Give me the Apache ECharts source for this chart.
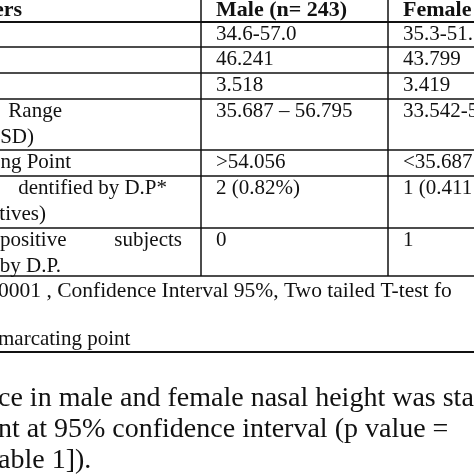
<!DOCTYPE html>
<html><head><meta charset="utf-8">
<script src="https://cdn.jsdelivr.net/npm/echarts@6/dist/echarts.min.js"></script>
<style>html,body{margin:0;padding:0;background:#fff}#c{width:474px;height:474px}</style>
</head><body><div id="c"></div>
<script>
const headers = ["ers", "Male (n= 243)", "Female"];
const rowLabels = [[""], [""], [""], ["Range", "SD)"], ["ng Point"], ["dentified by D.P*", "tives)"], ["positive|subjects", "by D.P."]];
const maleValues = ["34.6-57.0", "46.241", "3.518", "35.687 \u2013 56.795", ">54.056", "2 (0.82%)", "0"];
const femaleValues = ["35.3-51.", "43.799", "3.419", "33.542-5", "<35.687", "1 (0.411", "1"];
const footnotes = ["0001 , Confidence Interval 95%, Two tailed T-test fo", "marcating point"];
const paragraph = ["ce in male and female nasal height was sta", "nt at 95% confidence interval (p value =", "able 1])."];

const rowTops = [22, 47, 73, 99, 150, 176, 228, 276];
const F = "'Liberation Serif', 'DejaVu Serif', serif";
const g = [];
function txt(x, y, s, opt) {
  g.push({type:'text', x, y, style:Object.assign({text:s, font:'21px ' + F, fill:'#111', align:'left', verticalAlign:'bottom'}, opt||{})});
}
function line(x1,y1,x2,y2,w){ g.push({type:'line', shape:{x1,y1,x2,y2}, style:{stroke:'#111', lineWidth:w||1.5}}); }

txt(22, 21, headers[0], {font:'bold 22px ' + F, align:'right'});
txt(216, 21, headers[1], {font:'bold 22px ' + F});
txt(403, 21, headers[2], {font:'bold 22px ' + F});
rowTops.forEach((y,i)=> line(0, y, 474, y, i===0 ? 2 : 1.5));
line(201, 0, 201, 276); line(388, 0, 388, 276);
const labelEnds = [[0],[0],[0],[62,34],[71],[167,46],[182,61]];
rowLabels.forEach((ls, i) => {
  const top = rowTops[i];
  ls.forEach((s, j) => {
    if (!s) return;
    const y = top + 23 + j*26;
    if (s.indexOf('|') >= 0) {
      const p = s.split('|');
      txt(0, y, p[0]);
      txt(labelEnds[i][j], y, p[1], {align:'right'});
    } else txt(labelEnds[i][j], y, s, {align:'right'});
  });
  txt(216, top + 23, maleValues[i]);
  txt(403, top + 23, femaleValues[i]);
});
txt(-2, 302, footnotes[0], {font:'21.5px ' + F});
txt(-2, 350, footnotes[1]);
line(0, 352, 474, 352, 2);
paragraph.forEach((s,i)=> {
  txt(-2, 413 + i*31, s, {font:'28px ' + F, align:'left'});
});

const chart = echarts.init(document.getElementById('c'));
chart.setOption({animation:false, backgroundColor:'#fff', graphic:{elements:g}});
</script></body></html>
